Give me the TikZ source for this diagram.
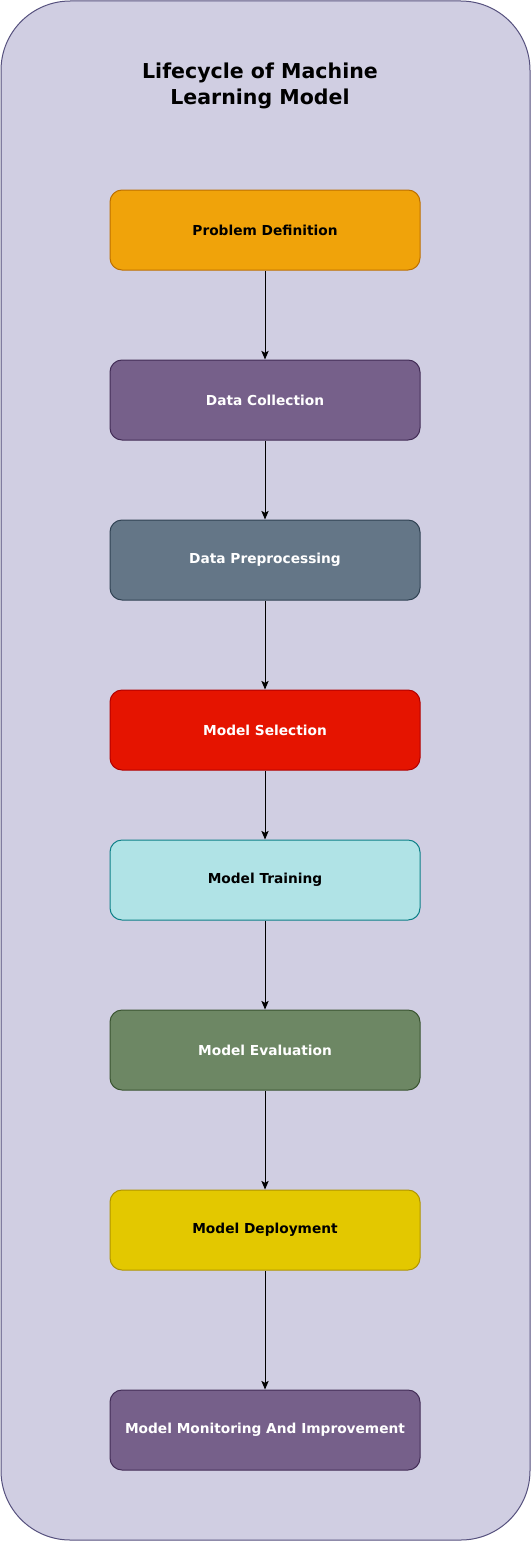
\documentclass[tikz,border=0pt]{standalone}
\usepackage{fontspec}
\setmainfont{DejaVu Sans}
\usetikzlibrary{arrows.meta}
\definecolor{bgfill}{HTML}{D0CEE2}
\definecolor{bgline}{HTML}{56517E}
\definecolor{c1f}{HTML}{F0A30A}\definecolor{c1d}{HTML}{BD7000}
\definecolor{c2f}{HTML}{76608A}\definecolor{c2d}{HTML}{432D57}
\definecolor{c3f}{HTML}{647687}\definecolor{c3d}{HTML}{314354}
\definecolor{c4f}{HTML}{E51400}\definecolor{c4d}{HTML}{B20000}
\definecolor{c5f}{HTML}{B0E3E6}\definecolor{c5d}{HTML}{0E8088}
\definecolor{c6f}{HTML}{6D8764}\definecolor{c6d}{HTML}{3A5431}
\definecolor{c7f}{HTML}{E3C800}\definecolor{c7d}{HTML}{B09500}
\begin{document}
\begin{tikzpicture}[x=0.75pt,y=-0.75pt,
  stagebox/.style={draw, rounded corners=9pt, line width=0.75pt, minimum width=232.5pt, minimum height=60pt, inner sep=0pt, font=\fontsize{10.3}{12}\selectfont\bfseries, align=center},
  flowarrow/.style={-{Stealth[length=6.5pt,width=5.5pt,inset=1.5pt]}, line width=0.75pt, black}]
\useasboundingbox (0,0) rectangle (531,1541);
\draw[fill=bgfill, draw=bgline, line width=0.75pt, rounded corners=52pt] (1,1) rectangle (530,1540);
\node[font=\fontsize{15.4}{19.5}\selectfont\bfseries, align=center] (title) at (260,86) {Lifecycle of Machine\\Learning Model};
\node[stagebox, fill=c1f, draw=c1d, text=black] (a) at (265,230) {Problem Definition};
\node[stagebox, fill=c2f, draw=c2d, text=white] (b) at (265,400) {Data Collection};
\node[stagebox, fill=c3f, draw=c3d, text=white] (c) at (265,560) {Data Preprocessing};
\node[stagebox, fill=c4f, draw=c4d, text=white] (d) at (265,730) {Model Selection};
\node[stagebox, fill=c5f, draw=c5d, text=black] (e) at (265,880) {Model Training};
\node[stagebox, fill=c6f, draw=c6d, text=white] (f) at (265,1050) {Model Evaluation};
\node[stagebox, fill=c7f, draw=c7d, text=black] (g) at (265,1230) {Model Deployment};
\node[stagebox, fill=c2f, draw=c2d, text=white] (h) at (265,1430) {Model Monitoring And Improvement};
\draw[flowarrow] (a) -- (b);
\draw[flowarrow] (b) -- (c);
\draw[flowarrow] (c) -- (d);
\draw[flowarrow] (d) -- (e);
\draw[flowarrow] (e) -- (f);
\draw[flowarrow] (f) -- (g);
\draw[flowarrow] (g) -- (h);
\end{tikzpicture}
\end{document}
